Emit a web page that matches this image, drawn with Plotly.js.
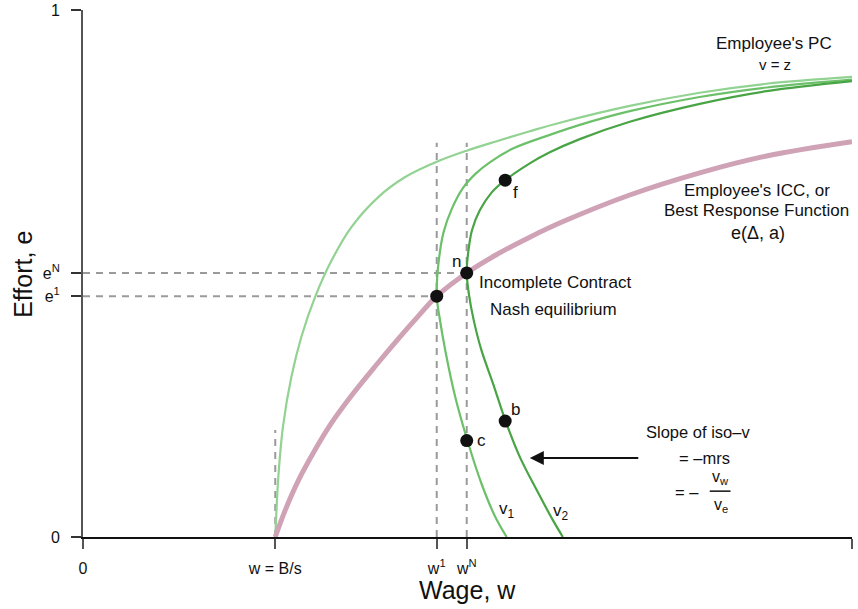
<!DOCTYPE html>
<html>
<head>
<meta charset="utf-8">
<script src="https://cdn.plot.ly/plotly-3.0.1.min.js"></script>
<style>
  html, body { margin: 0; padding: 0; background: #fff; }
  #chart { width: 858px; height: 609px; }
</style>
</head>
<body>
<div id="chart"></div>
<script>
// Effort vs wage: participation constraint, iso-v curves and best response (ICC)

// key wages and efforts
const wBs = 0.25;
const w1 = 0.460;
const wN = 0.499;
const e1 = 0.457;
const eN = 0.501;

// Employee's PC (v = z)
const pcW = [0.250, 0.2516, 0.254, 0.260, 0.271, 0.284, 0.302, 0.323, 0.349, 0.384, 0.419, 0.460, 0.499, 0.538, 0.581, 0.625, 0.711, 0.802, 0.889, 1.0];
const pcE = [0, 0.051, 0.114, 0.209, 0.304, 0.380, 0.456, 0.524, 0.588, 0.645, 0.683, 0.712, 0.733, 0.751, 0.770, 0.788, 0.818, 0.843, 0.860, 0.873];

// iso-v curve v1
const v1W = [0.551, 0.536, 0.518, 0.4997, 0.484, 0.471, 0.4635, 0.460, 0.462, 0.469, 0.480, 0.494, 0.511, 0.529, 0.559, 0.607, 0.646, 0.711, 0.802, 0.889, 1.0];
const v1E = [0, 0.0385, 0.102, 0.184, 0.266, 0.355, 0.418, 0.457, 0.516, 0.579, 0.624, 0.662, 0.690, 0.711, 0.737, 0.763, 0.782, 0.808, 0.835, 0.853, 0.868];

// iso-v curve v2
const v2W = [0.624, 0.611, 0.590, 0.568, 0.550, 0.533, 0.518, 0.508, 0.502, 0.499, 0.501, 0.506, 0.516, 0.531, 0.549, 0.581, 0.607, 0.646, 0.711, 0.802, 0.889, 1.0];
const v2E = [0, 0.032, 0.089, 0.152, 0.218, 0.292, 0.355, 0.412, 0.459, 0.501, 0.541, 0.583, 0.620, 0.653, 0.677, 0.709, 0.730, 0.755, 0.788, 0.822, 0.846, 0.865];

// Employee's ICC / best response function
const iccW = [0.250, 0.263, 0.280, 0.302, 0.323, 0.349, 0.380, 0.410, 0.436, 0.460, 0.499, 0.538, 0.581, 0.625, 0.711, 0.802, 0.889, 1.0];
const iccE = [0, 0.051, 0.107, 0.166, 0.216, 0.268, 0.324, 0.376, 0.419, 0.457, 0.501, 0.536, 0.569, 0.599, 0.649, 0.691, 0.723, 0.750];

// labelled points: e1 point, n, f, b, c
const ptW = [0.460, 0.499, 0.549, 0.549, 0.499];
const ptE = [0.457, 0.501, 0.677, 0.220, 0.183];

const guideTop = 0.748;   // top of the w1 / wN guides
const bsGuideTop = 0.203; // top of the B/s guide

const font = 'Liberation Sans, Arial, Helvetica, sans-serif';
const guide = { color: '#9a9a9a', width: 2, dash: '7px,6px' };
const curve = (color, width) => ({ color: color, width: width, shape: 'spline', smoothing: 1 });

const traces = [
    { x: [w1, w1], y: [0, guideTop], mode: 'lines', line: guide },
    { x: [wN, wN], y: [0, guideTop], mode: 'lines', line: guide },
    { x: [wBs, wBs], y: [0, bsGuideTop], mode: 'lines', line: guide },
    { x: [0, wN], y: [eN, eN], mode: 'lines', line: guide },
    { x: [0, w1], y: [e1, e1], mode: 'lines', line: guide },
    { x: pcW, y: pcE, mode: 'lines', line: curve('#92d292', 2.2) },
    { x: v1W, y: v1E, mode: 'lines', line: curve('#6cc06a', 2.2) },
    { x: v2W, y: v2E, mode: 'lines', line: curve('#48a444', 2.2) },
    { x: iccW, y: iccE, mode: 'lines', line: curve('#cfa2b6', 5) },
    { x: ptW, y: ptE, mode: 'markers', marker: { color: '#111', size: 13 }, cliponaxis: false }
];

function note(text, x, y, size) {
    return { text: text, x: x, y: y, xref: 'x', yref: 'y', showarrow: false,
        font: { family: font, size: size, color: '#111' } };
}

const annotations = [
    note("Employee's PC", 0.899, 0.937, 17),
    note('v = z', 0.900, 0.896, 15),
    note("Employee's ICC, or", 0.876, 0.658, 17),
    note('Best Response Function', 0.876, 0.619, 17),
    note('e(\u0394, a)', 0.878, 0.577, 18),
    note('Incomplete Contract', 0.614, 0.482, 17),
    note('Nash equilibrium', 0.612, 0.431, 17),
    note('n', 0.486, 0.522, 17),
    note('f', 0.563, 0.653, 17),
    note('b', 0.562, 0.241, 17),
    note('c', 0.518, 0.184, 17),
    note('v<sub>1</sub>', 0.552, 0.051, 17),
    note('v<sub>2</sub>', 0.622, 0.047, 17),
    note('Slope of iso\u2013v', 0.800, 0.199, 16.5),
    note('= \u2013mrs', 0.808, 0.150, 16.5),
    note('= \u2013', 0.786, 0.085, 16.5),
    note('v<sub>w</sub>', 0.829, 0.113, 16),
    note('v<sub>e</sub>', 0.829, 0.059, 16),
    { x: 0.581, y: 0.150, ax: 0.724, ay: 0.150, xref: 'x', yref: 'y', axref: 'x', ayref: 'y',
      text: '', showarrow: true, arrowhead: 2, arrowsize: 1.4, arrowwidth: 2, arrowcolor: '#111' },
    { text: 'Effort, e', xref: 'paper', yref: 'paper', x: -0.079, y: 0.498, textangle: -90,
      showarrow: false, xanchor: 'center', yanchor: 'middle', font: { family: font, size: 25, color: '#111' } },
    { text: 'Wage, w', xref: 'paper', yref: 'paper', x: 0.5, y: -0.1, showarrow: false,
      xanchor: 'center', yanchor: 'middle', font: { family: font, size: 25, color: '#111' } }
];

const layout = {
    width: 858, height: 609,
    margin: { l: 83, r: 6, t: 10, b: 72 },
    paper_bgcolor: '#fff', plot_bgcolor: '#fff',
    showlegend: false,
    font: { family: font, size: 17, color: '#111' },
    xaxis: {
        range: [0, 1], showgrid: false, zeroline: false,
        showline: true, linecolor: '#111', linewidth: 1.5,
        ticks: 'outside', ticklen: 10, tickwidth: 2, tickcolor: '#555',
        tickvals: [0, wBs, w1, wN, 1],
        ticktext: ['0', 'w = B/s', 'w<sup>1</sup>', 'w<sup>N</sup>', ''],
        ticklabelstandoff: 6, tickfont: { family: font, size: 16, color: '#111' }
    },
    yaxis: {
        range: [0, 1], showgrid: false, zeroline: false,
        showline: true, linecolor: '#555', linewidth: 2,
        ticks: 'outside', ticklen: 10, tickwidth: 2, tickcolor: '#333',
        tickvals: [0, e1, eN, 1],
        ticktext: ['0', 'e<sup>1</sup>', 'e<sup>N</sup>', '1'],
        ticklabelstandoff: 8, tickfont: { family: font, size: 16, color: '#111' }
    },
    shapes: [
        // fraction bar of -v_w / v_e
        { type: 'line', xref: 'x', yref: 'y', x0: 0.815, x1: 0.842, y0: 0.087, y1: 0.087, line: { color: '#111', width: 1.5 } }
    ],
    annotations: annotations
};

Plotly.newPlot('chart', traces, layout, { displayModeBar: false, staticPlot: true });
</script>
</body>
</html>
